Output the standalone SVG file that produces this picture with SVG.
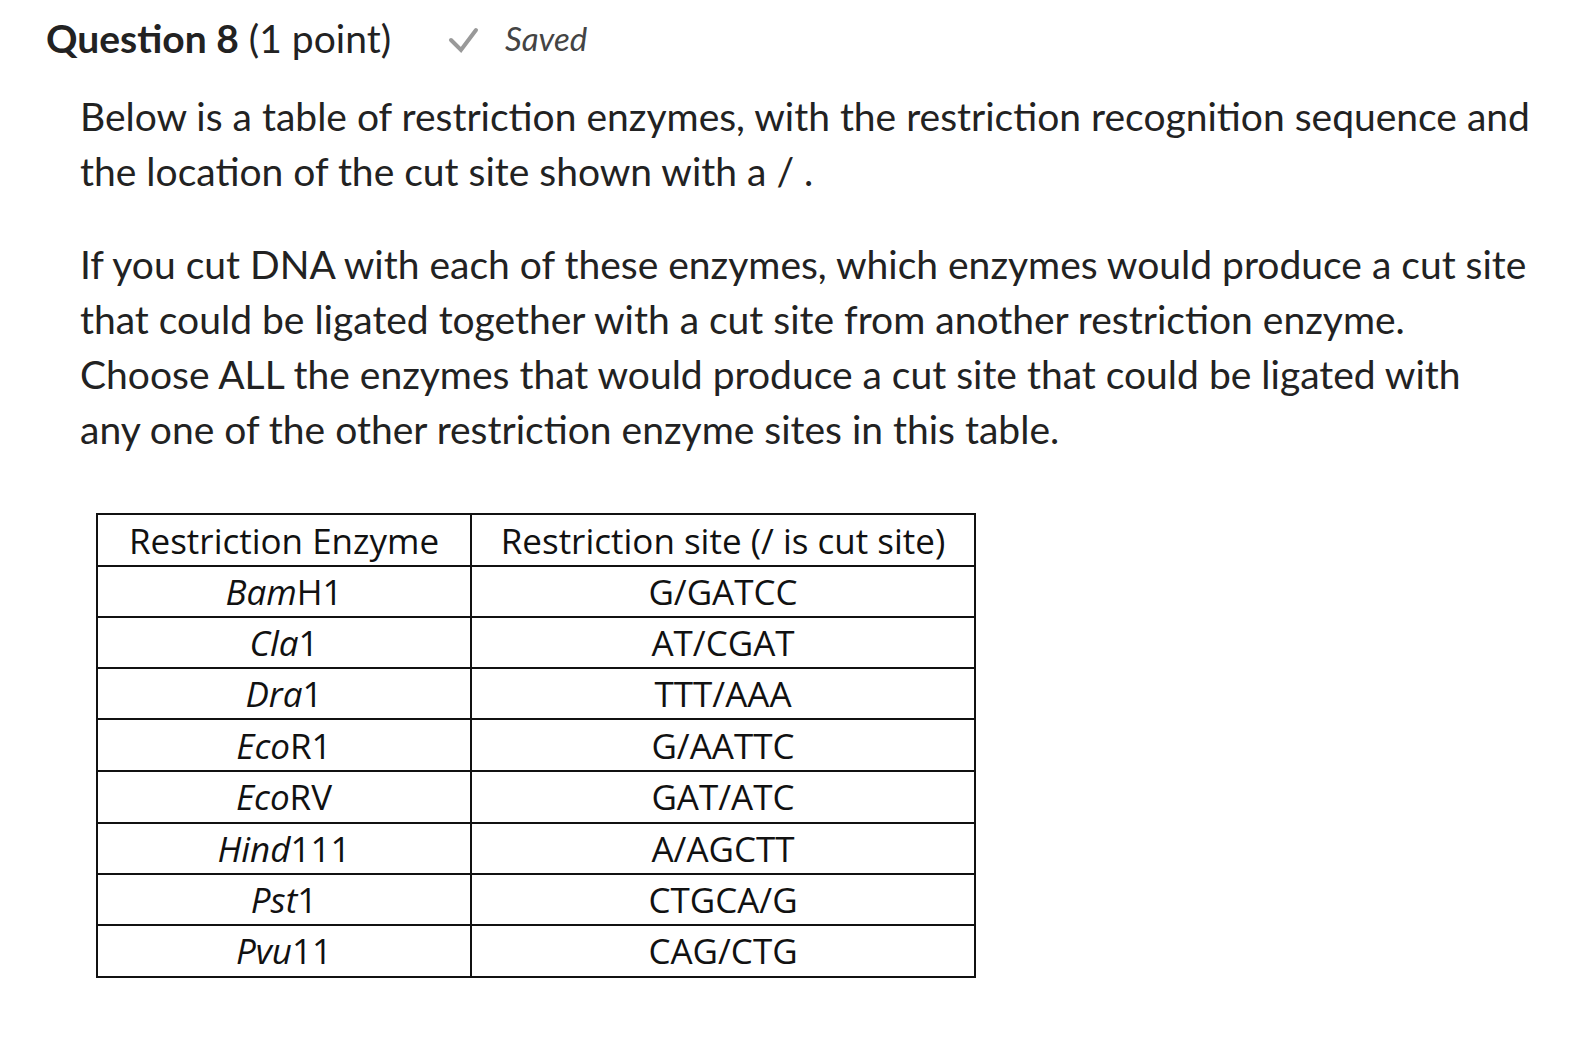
<svg xmlns="http://www.w3.org/2000/svg" width="1586" height="1052" viewBox="0 0 1586 1052">
<style>
.p{font-family:Lato,"Open Sans",sans-serif;font-size:39px;fill:#222}
.t{font-family:"Open Sans",Lato,sans-serif;font-size:35px;fill:#111;text-anchor:middle}
.ln{stroke:#111;stroke-width:2;fill:none}
</style>
<rect width="1586" height="1052" fill="#fff"/>
<text x="46" y="53" class="p" style="font-size:39px"><tspan font-weight="bold">Question 8</tspan> (1 point)</text>
<path d="M451 40 L461 50 L476 30" stroke="#999" stroke-width="4" fill="none" stroke-linecap="round"/>
<text x="505" y="51" class="p" style="font-size:33px;font-style:italic;fill:#444">Saved</text>
<text x="80" y="131" class="p">Below is a table of restriction enzymes, with the restriction recognition sequence and</text>
<text x="80" y="186" class="p">the location of the cut site shown with a / .</text>
<text x="80" y="279" class="p">If you cut DNA with each of these enzymes, which enzymes would produce a cut site</text>
<text x="80" y="334" class="p">that could be ligated together with a cut site from another restriction enzyme.</text>
<text x="80" y="389" class="p">Choose ALL the enzymes that would produce a cut site that could be ligated with</text>
<text x="80" y="444" class="p">any one of the other restriction enzyme sites in this table.</text>
<rect x="97" y="514" width="878" height="463" class="ln"/>
<path class="ln" d="M471 514V977M97 566H975M97 617H975M97 668H975M97 719H975M97 771H975M97 823H975M97 874H975M97 925H975"/>
<g class="t">
<text x="284" y="554">Restriction Enzyme</text>
<text x="723" y="554">Restriction site (/ is cut site)</text>
<text x="284" y="605"><tspan font-style="italic">Bam</tspan>H1</text><text x="723" y="605">G/GATCC</text>
<text x="284" y="656"><tspan font-style="italic">Cla</tspan>1</text><text x="723" y="656">AT/CGAT</text>
<text x="284" y="707"><tspan font-style="italic">Dra</tspan>1</text><text x="723" y="707">TTT/AAA</text>
<text x="284" y="759"><tspan font-style="italic">Eco</tspan>R1</text><text x="723" y="759">G/AATTC</text>
<text x="284" y="810"><tspan font-style="italic">Eco</tspan>RV</text><text x="723" y="810">GAT/ATC</text>
<text x="284" y="862"><tspan font-style="italic">Hind</tspan>111</text><text x="723" y="862">A/AGCTT</text>
<text x="284" y="913"><tspan font-style="italic">Pst</tspan>1</text><text x="723" y="913">CTGCA/G</text>
<text x="284" y="964"><tspan font-style="italic">Pvu</tspan>11</text><text x="723" y="964">CAG/CTG</text>
</g>
</svg>
